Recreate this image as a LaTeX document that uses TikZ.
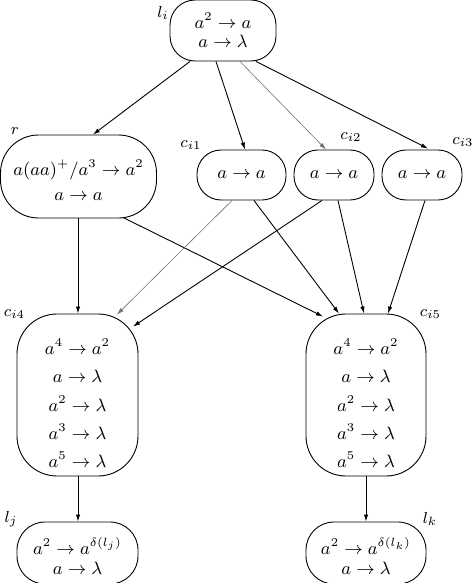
\documentclass[tikz,border=0pt]{standalone}
\usetikzlibrary{arrows.meta,calc}
\newcommand{\toppad}[1]{\rule{0pt}{#1}}
\begin{document}
\begin{tikzpicture}[x=0.5pt, y=-0.5pt, >={Latex[length=3.5pt,width=2.2pt]},
   rule_box/.style={draw=black, line width=0.45pt, align=center, inner sep=0pt},
   edge_style/.style={draw=black, line width=0.45pt, ->},
   faint_edge/.style={draw=black!55, line width=0.3pt, ->},
   name_label/.style={font=\fontsize{8.2}{10}\selectfont, inner sep=0pt}]
	\useasboundingbox (0,0) rectangle (474,583);

	\node [rule_box, minimum width=53pt, minimum height=30.5pt, rounded corners=12.5pt, font=\fontsize{9.2}{9.6}\selectfont] (li) at (223,30.5) {$a^2\to a$\\$a\to\lambda$};
	\node [rule_box, minimum width=78pt, minimum height=41.5pt, rounded corners=19pt, font=\fontsize{9.2}{12.5}\selectfont] (r) at (78.5,176.5) {\toppad{11.5pt}$a(aa)^+/a^3\to a^2$\\$a\to a$};
	\node [rule_box, minimum width=44.5pt, minimum height=25pt, rounded corners=12pt, font=\fontsize{9.2}{12}\selectfont] (ci1) at (241.5,175) {$a\to a$};
	\node [rule_box, minimum width=40pt, minimum height=25pt, rounded corners=12pt, font=\fontsize{9.2}{12}\selectfont] (ci2) at (334,175) {$a\to a$};
	\node [rule_box, minimum width=40pt, minimum height=25pt, rounded corners=12pt, font=\fontsize{9.2}{12}\selectfont] (ci3) at (422,175) {$a\to a$};
	\node [rule_box, minimum width=60.5pt, minimum height=81pt, rounded corners=20pt, font=\fontsize{9.2}{14.15}\selectfont] (ci4) at (77.5,395) {\toppad{16pt}$a^4\to a^2$\\$a\to\lambda$\\$a^2\to\lambda$\\$a^3\to\lambda$\\$a^5\to\lambda$};
	\node [rule_box, minimum width=60pt, minimum height=81pt, rounded corners=20pt, font=\fontsize{9.2}{14.15}\selectfont] (ci5) at (366,395) {\toppad{16pt}$a^4\to a^2$\\$a\to\lambda$\\$a^2\to\lambda$\\$a^3\to\lambda$\\$a^5\to\lambda$};
	\node [rule_box, minimum width=60.5pt, minimum height=31pt, rounded corners=14pt, font=\fontsize{9.2}{10}\selectfont] (lj) at (77.5,553) {\toppad{11pt}$a^2\to a^{\delta(l_j)}$\\$a\to\lambda$};
	\node [rule_box, minimum width=60pt, minimum height=31pt, rounded corners=14pt, font=\fontsize{9.2}{10}\selectfont] (lk) at (366,553) {\toppad{11pt}$a^2\to a^{\delta(l_k)}$\\$a\to\lambda$};

	\node [name_label] (li_name) at (163,13) {$l_i$};
	\node [name_label] (r_name) at (15,131) {$r$};
	\node [name_label] (ci1_name) at (191,145) {$c_{i1}$};
	\node [name_label] (ci2_name) at (351,137) {$c_{i2}$};
	\node [name_label] (ci3_name) at (463,142) {$c_{i3}$};
	\node [name_label] (ci4_name) at (14.5,314) {$c_{i4}$};
	\node [name_label] (ci5_name) at (430.5,314) {$c_{i5}$};
	\node [name_label] (lj_name) at (11,519) {$l_j$};
	\node [name_label] (lk_name) at (430,519) {$l_k$};

	\foreach \from/\fx/\fy/\to/\tx/\ty in {
		li.south/-33/0/r.north/14.5/0,
		li.south/-7/0/ci1.north/3.5/0,
		li.south/33/0/ci3.north/6/-1,
		r.south/-0.5/0/ci4.north/0.5/0,
		r.south/44.5/-1/ci5.north/-43/3,
		ci1.south/12.5/0/ci5.north/-27/0,
		ci2.south/-12/0/ci4.north/55.5/13,
		ci2.south/4/0/ci5.north/-2/0,
		ci3.south/3/0/ci5.north/22/0,
		ci4.south/0.5/0/lj.north/0.5/0,
		ci5.south/0/0/lk.north/0/0
		}
	  \draw [edge_style] ($(\from)+(\fx,\fy)$) -- ($(\to)+(\tx,\ty)$);

	\draw [faint_edge] ($(li.south)+(17,0)$) -- ($(ci2.north)+(-8,0)$);
	\draw [faint_edge] ($(ci1.south)+(-9.5,0)$) -- ($(ci4.north)+(39.5,1)$);

\end{tikzpicture}
\end{document}
